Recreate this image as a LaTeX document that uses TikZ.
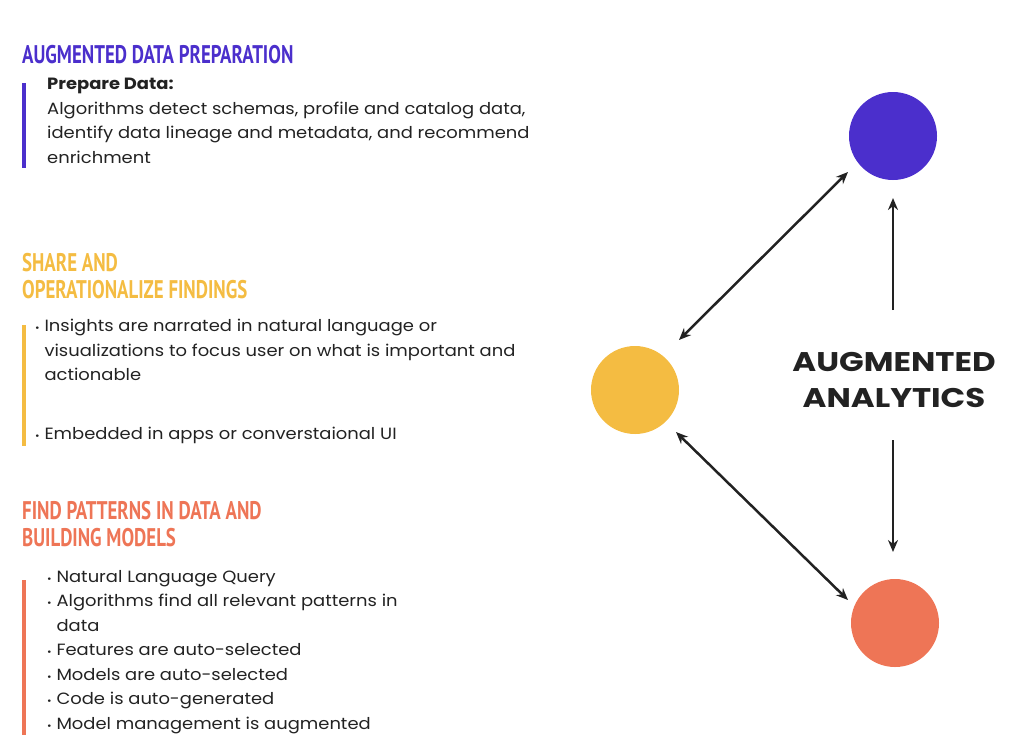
\documentclass[tikz,border=0pt]{standalone}
\usepackage{fontspec}
\setmainfont{Poppins}[FakeStretch=1.1]
\newfontfamily\headfont{PT Sans}[FakeStretch=0.74]
\newfontfamily\bigfont{Poppins}[FakeStretch=1.2]
\usetikzlibrary{positioning}
\usetikzlibrary{arrows.meta}
\definecolor{prep}{HTML}{4B2FCC}
\definecolor{share}{HTML}{F4BC42}
\definecolor{find}{HTML}{EE7556}
\definecolor{ink}{HTML}{222222}
\newcommand{\pt}{{\fontsize{10}{10}\selectfont\textbullet}\ }
\begin{document}
\begin{tikzpicture}[x=1pt, y=-1pt,
    head/.style={anchor=north west, inner sep=0pt, align=left, font=\headfont\bfseries\fontsize{25.5}{27.5}\selectfont},
    body/.style={anchor=north west, inner sep=0pt, align=left, text=ink, font=\fontsize{16.3}{24.5}\selectfont},
    bar/.style={line width=4pt},
    dot/.style={circle, minimum size=88pt, inner sep=0pt},
    link/.style={{Stealth[length=12pt,width=10pt]}-{Stealth[length=12pt,width=10pt]}, line width=2.5pt, ink},
    oneway/.style={-{Stealth[length=12pt,width=10pt]}, line width=2.5pt, ink},
    ]
    \useasboundingbox (0,0) rectangle (1024,740);
    % headings
    \node[head, text=prep] (H1) at (22,45) {AUGMENTED DATA PREPARATION};
    \node[head, text=share] (H2) at (22,253) {SHARE AND\\OPERATIONALIZE FINDINGS};
    \node[head, text=find] (H3) at (22,501) {FIND PATTERNS IN DATA AND\\BUILDING MODELS};
    % bars
    \draw[bar, prep] (24,83) -- (24,168);
    \draw[bar, share] (24,325) -- (24,446);
    \draw[bar, find] (24,580) -- (24,735);
    % texts
    \node[body] (T1) at (47,78) {\textbf{Prepare Data:}\\
        Algorithms detect schemas, profile and catalog data,\\
        identify data lineage and metadata, and recommend\\
        enrichment};
    \node[body] (T2) at (35,319) {\pt Insights are narrated in natural language or\\
        \phantom{\pt}visualizations to focus user on what is important and\\
        \phantom{\pt}actionable};
    \node[body] (T3) at (35,427) {\pt Embedded in apps or converstaional UI};
    \node[body] (T4) at (47,570) {\pt Natural Language Query\\
        \pt Algorithms find all relevant patterns in\\
        \phantom{\pt}data\\
        \pt Features are auto-selected\\
        \pt Models are auto-selected\\
        \pt Code is auto-generated\\
        \pt Model management is augmented};
    % diagram
    \node[dot, fill=prep] (P) at (893,136) {};
    \node[dot, fill=share] (S) at (635,390) {};
    \node[dot, fill=find] (F) at (895,623) {};
    \node[text=ink, align=center, font=\bigfont\bfseries\fontsize{27}{36}\selectfont] (AA) at (894,380) {AUGMENTED\\ANALYTICS};
    \coordinate (sp1) at (679,340);
    \coordinate (sp2) at (848,172);
    \coordinate (sf1) at (676,432);
    \coordinate (sf2) at (848,600);
    \coordinate (a1) at (893,310);
    \coordinate (a2) at (893,198);
    \coordinate (b1) at (893,440);
    \coordinate (b2) at (893,552);
    \draw[link] (sp1) -- (sp2);
    \draw[link] (sf1) -- (sf2);
    \draw[oneway] (a1) -- (a2);
    \draw[oneway] (b1) -- (b2);
\end{tikzpicture}
\end{document}
